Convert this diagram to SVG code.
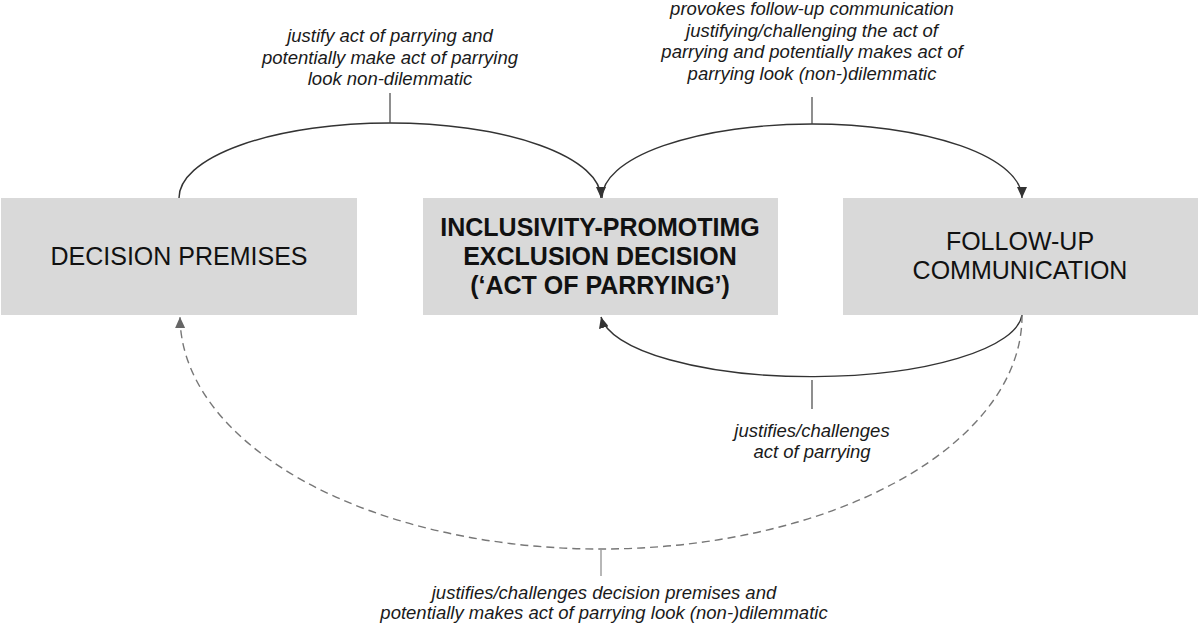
<svg xmlns="http://www.w3.org/2000/svg" width="1200" height="627" viewBox="0 0 1200 627">
<style>
.box{fill:#d9d9d9}
.nt{font-family:"Liberation Sans",Arial,sans-serif;font-size:25px;fill:#111;text-anchor:middle}
.bt{font-weight:bold}
.lb{font-family:"Liberation Sans",Arial,sans-serif;font-size:18.5px;font-style:italic;fill:#1a1a1a;text-anchor:middle}
.c{fill:none;stroke:#333;stroke-width:1.4}
.d{fill:none;stroke:#777;stroke-width:1.4;stroke-dasharray:8 5}
.tk{stroke:#444;stroke-width:1.2}
.tkg{stroke:#999;stroke-width:1.4}
</style>
<defs>
<marker id="ah" markerUnits="userSpaceOnUse" markerWidth="12" markerHeight="10" refX="11" refY="5" orient="auto">
<path d="M0,0 L11,5 L0,10 z" fill="#333"/>
</marker>
<marker id="ahg" markerUnits="userSpaceOnUse" markerWidth="12" markerHeight="10" refX="11" refY="5" orient="auto">
<path d="M0,0 L11,5 L0,10 z" fill="#666"/>
</marker>
</defs>
<rect width="1200" height="627" fill="#fff"/>
<g id="connectors">
<path class="c" d="M179,198 A211,75 0 0,1 601,198" marker-end="url(#ah)"/>
<path class="c" d="M602,198 A210,74 0 0,1 1022,198" marker-end="url(#ah)"/>
<path class="c" d="M1022,315 A211,65 0 0,1 601,317" marker-end="url(#ah)"/>
<path class="d" d="M1022,315 A421,233 0 0,1 180,317" marker-end="url(#ahg)"/>
<line class="tk" x1="390" y1="93" x2="390" y2="123"/>
<line class="tk" x1="812" y1="97" x2="812" y2="124"/>
<line class="tk" x1="812" y1="380" x2="812" y2="409"/>
<line class="tkg" x1="601" y1="549" x2="601" y2="576"/>
</g>
<g id="label-top-left">
<text class="lb" x="390" y="42">justify act of parrying and</text>
<text class="lb" x="390" y="63.5">potentially make act of parrying</text>
<text class="lb" x="390" y="85">look non-dilemmatic</text>
</g>
<g id="label-top-right">
<text class="lb" x="812" y="15">provokes follow-up communication</text>
<text class="lb" x="812" y="36.7">justifying/challenging the act of</text>
<text class="lb" x="812" y="58.3">parrying and potentially makes act of</text>
<text class="lb" x="812" y="80">parrying look (non-)dilemmatic</text>
</g>
<g id="label-bottom-right">
<text class="lb" x="812" y="437">justifies/challenges</text>
<text class="lb" x="812" y="458">act of parrying</text>
</g>
<g id="label-bottom">
<text class="lb" x="604" y="598.5">justifies/challenges decision premises and</text>
<text class="lb" x="604" y="619">potentially makes act of parrying look (non-)dilemmatic</text>
</g>
<g id="node-decision-premises">
<rect class="box" x="1" y="198" width="356" height="117"/>
<text class="nt" x="179" y="265">DECISION PREMISES</text>
</g>
<g id="node-exclusion-decision">
<rect class="box" x="423" y="198" width="355" height="117"/>
<text class="nt bt" x="600" y="236">INCLUSIVITY-PROMOTIMG</text>
<text class="nt bt" x="600" y="265">EXCLUSION DECISION</text>
<text class="nt bt" x="600" y="294">(‘ACT OF PARRYING’)</text>
</g>
<g id="node-follow-up">
<rect class="box" x="843" y="198" width="355" height="117"/>
<text class="nt" x="1020" y="250">FOLLOW-UP</text>
<text class="nt" x="1020" y="279">COMMUNICATION</text>
</g>
</svg>
